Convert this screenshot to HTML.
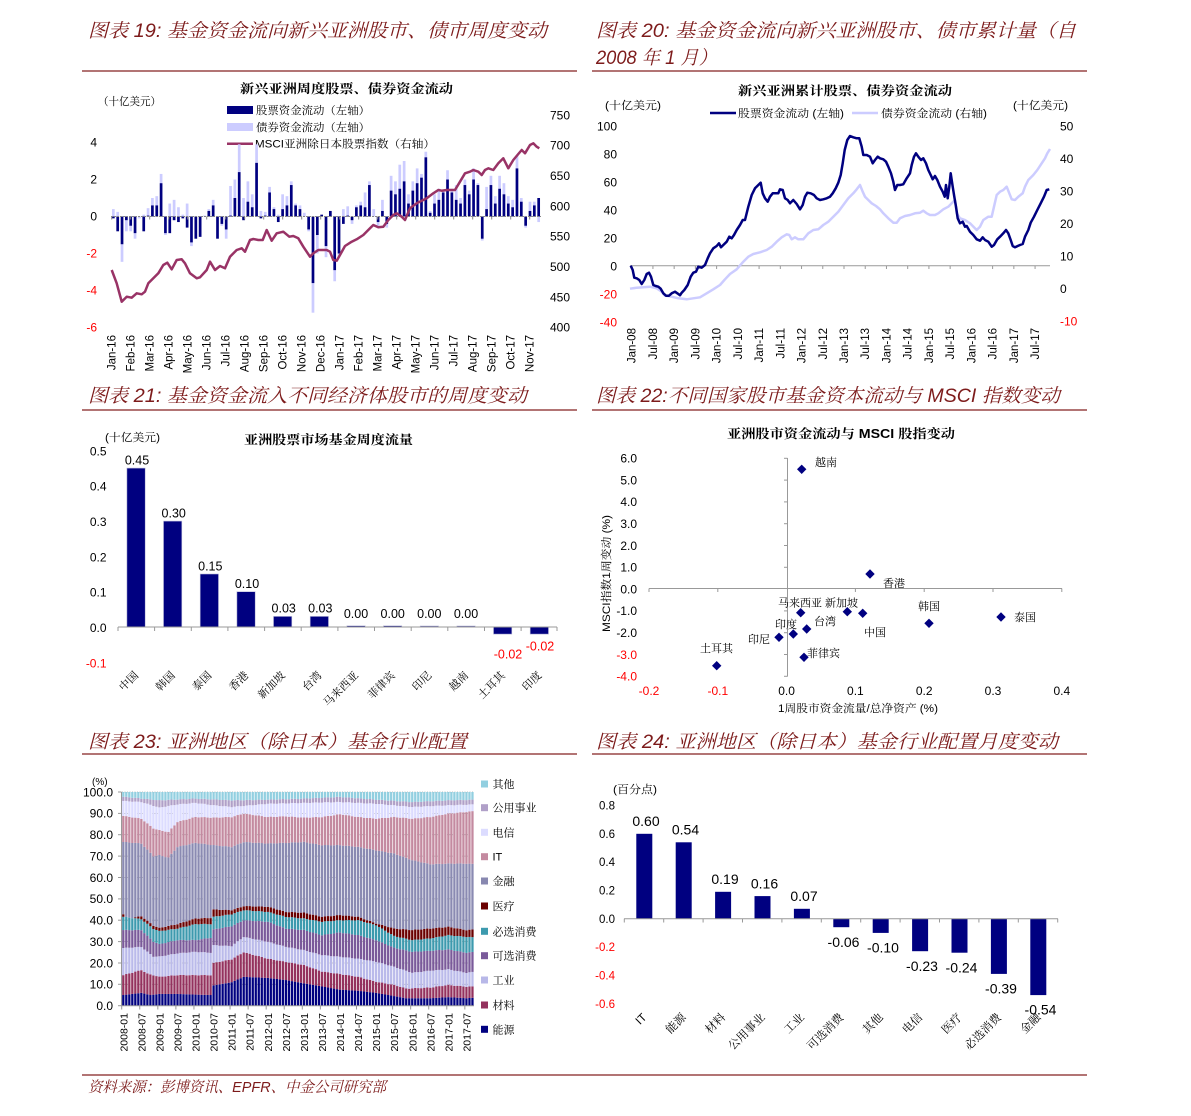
<!DOCTYPE html>
<html><head><meta charset="utf-8">
<style>
html,body{margin:0;padding:0;background:#fff;}
svg{display:block;}
.t{font-family:"Liberation Sans","Noto Serif CJK SC",serif;font-style:italic;fill:#7d1b1b;font-size:19px;}
.n{font-family:"Liberation Sans",sans-serif;font-size:12px;fill:#000;}
.s{font-family:"Liberation Sans",sans-serif;font-size:11.5px;fill:#000;}
.r{fill:#ff0000;}
.c{font-family:"Liberation Sans","Noto Serif CJK SC",serif;font-size:11px;fill:#000;}
.h{font-family:"Liberation Sans","Noto Serif CJK SC",serif;font-size:12.5px;font-weight:bold;fill:#000;}
</style></head><body>
<svg id="s" width="1191" height="1116" viewBox="0 0 1191 1116" xmlns="http://www.w3.org/2000/svg">
<rect width="1191" height="1116" fill="#fff"/>
<!-- Titles -->
<text class="t" x="88" y="37" textLength="459" lengthAdjust="spacingAndGlyphs">图表 19: 基金资金流向新兴亚洲股市、债市周度变动</text>
<text class="t" x="596" y="37" textLength="480" lengthAdjust="spacingAndGlyphs">图表 20: 基金资金流向新兴亚洲股市、债市累计量（自</text>
<text class="t" x="596" y="64" textLength="121" lengthAdjust="spacingAndGlyphs">2008 年 1 月）</text>
<line x1="82" y1="71" x2="577" y2="71" stroke="#b27474" stroke-width="2"/>
<line x1="592" y1="71" x2="1087" y2="71" stroke="#b27474" stroke-width="2"/>
<text class="t" x="88" y="402" textLength="439" lengthAdjust="spacingAndGlyphs">图表 21: 基金资金流入不同经济体股市的周度变动</text>
<text class="t" x="596" y="402" textLength="464" lengthAdjust="spacingAndGlyphs">图表 22:不同国家股市基金资本流动与 MSCI 指数变动</text>
<line x1="82" y1="410" x2="577" y2="410" stroke="#b27474" stroke-width="2"/>
<line x1="592" y1="410" x2="1087" y2="410" stroke="#b27474" stroke-width="2"/>
<text class="t" x="88" y="748" textLength="379" lengthAdjust="spacingAndGlyphs">图表 23: 亚洲地区（除日本）基金行业配置</text>
<text class="t" x="596" y="748" textLength="462" lengthAdjust="spacingAndGlyphs">图表 24: 亚洲地区（除日本）基金行业配置月度变动</text>
<line x1="82" y1="754" x2="577" y2="754" stroke="#b27474" stroke-width="2"/>
<line x1="592" y1="754" x2="1087" y2="754" stroke="#b27474" stroke-width="2"/>
<line x1="82" y1="1075" x2="1087" y2="1075" stroke="#b27474" stroke-width="2"/>
<text class="t" x="88" y="1092" style="font-size:15px" textLength="298" lengthAdjust="spacingAndGlyphs">资料来源：彭博资讯、EPFR、中金公司研究部</text>

<!-- ============ Chart 19 ============ -->
<text class="h" x="240" y="93" textLength="213" lengthAdjust="spacingAndGlyphs">新兴亚洲周度股票、债券资金流动</text>
<text class="c" x="98" y="105" textLength="63" lengthAdjust="spacingAndGlyphs">（十亿美元）</text>
<rect x="227" y="106" width="26" height="8" fill="#000080"/>
<rect x="227" y="123" width="26" height="8" fill="#ccccff"/>
<line x1="227" y1="143.7" x2="253" y2="143.7" stroke="#993366" stroke-width="2.5"/>
<text class="c" x="256" y="114" textLength="114" lengthAdjust="spacingAndGlyphs">股票资金流动（左轴）</text>
<text class="c" x="256" y="131" textLength="114" lengthAdjust="spacingAndGlyphs">债券资金流动（左轴）</text>
<text class="c" x="255" y="147.5" textLength="180" lengthAdjust="spacingAndGlyphs">MSCI亚洲除日本股票指数（右轴）</text>
<g class="n" text-anchor="end">
<text x="97" y="146.3">4</text><text x="97" y="183.3">2</text><text x="97" y="220.3">0</text>
<text x="97" y="257.3" class="n r">-2</text><text x="97" y="294.3" class="n r">-4</text><text x="97" y="331.3" class="n r">-6</text>
</g>
<g class="n">
<text x="550" y="119.3">750</text><text x="550" y="149.6">700</text><text x="550" y="180">650</text><text x="550" y="210.3">600</text>
<text x="550" y="240.6">550</text><text x="550" y="271">500</text><text x="550" y="301.3">450</text><text x="550" y="331.6">400</text>
</g>
<g id="b19"></g>
<line x1="111" y1="216.5" x2="541" y2="216.5" stroke="#888" stroke-width="1" stroke-dasharray="2,1"/>
<g id="t19"></g>
<polyline id="m19" fill="none" stroke="#993366" stroke-width="2.5" stroke-linejoin="round" points=""/>
<g class="s" text-anchor="end">
<text transform="rotate(-90 115.7 335)" x="115.7" y="335">Jan-16</text>
<text transform="rotate(-90 134.7 335)" x="134.7" y="335">Feb-16</text>
<text transform="rotate(-90 153.7 335)" x="153.7" y="335">Mar-16</text>
<text transform="rotate(-90 172.7 335)" x="172.7" y="335">Apr-16</text>
<text transform="rotate(-90 191.7 335)" x="191.7" y="335">May-16</text>
<text transform="rotate(-90 210.7 335)" x="210.7" y="335">Jun-16</text>
<text transform="rotate(-90 229.7 335)" x="229.7" y="335">Jul-16</text>
<text transform="rotate(-90 248.7 335)" x="248.7" y="335">Aug-16</text>
<text transform="rotate(-90 267.7 335)" x="267.7" y="335">Sep-16</text>
<text transform="rotate(-90 286.7 335)" x="286.7" y="335">Oct-16</text>
<text transform="rotate(-90 305.7 335)" x="305.7" y="335">Nov-16</text>
<text transform="rotate(-90 324.7 335)" x="324.7" y="335">Dec-16</text>
<text transform="rotate(-90 343.7 335)" x="343.7" y="335">Jan-17</text>
<text transform="rotate(-90 362.7 335)" x="362.7" y="335">Feb-17</text>
<text transform="rotate(-90 381.7 335)" x="381.7" y="335">Mar-17</text>
<text transform="rotate(-90 400.7 335)" x="400.7" y="335">Apr-17</text>
<text transform="rotate(-90 419.7 335)" x="419.7" y="335">May-17</text>
<text transform="rotate(-90 438.7 335)" x="438.7" y="335">Jun-17</text>
<text transform="rotate(-90 457.7 335)" x="457.7" y="335">Jul-17</text>
<text transform="rotate(-90 476.7 335)" x="476.7" y="335">Aug-17</text>
<text transform="rotate(-90 495.7 335)" x="495.7" y="335">Sep-17</text>
<text transform="rotate(-90 514.7 335)" x="514.7" y="335">Oct-17</text>
<text transform="rotate(-90 533.7 335)" x="533.7" y="335">Nov-17</text>
</g>

<!-- ============ Chart 20 ============ -->
<text class="h" x="738" y="95" textLength="214" lengthAdjust="spacingAndGlyphs">新兴亚洲累计股票、债券资金流动</text>
<text class="c" x="605" y="109" textLength="56" lengthAdjust="spacingAndGlyphs">(十亿美元)</text>
<text class="c" x="1013" y="109" textLength="55" lengthAdjust="spacingAndGlyphs">(十亿美元)</text>
<line x1="710" y1="113" x2="736" y2="113" stroke="#000080" stroke-width="2.5"/>
<text class="c" x="738" y="117" textLength="106" lengthAdjust="spacingAndGlyphs">股票资金流动 (左轴)</text>
<line x1="852" y1="113" x2="878" y2="113" stroke="#ccccff" stroke-width="2.5"/>
<text class="c" x="881" y="117" textLength="106" lengthAdjust="spacingAndGlyphs">债券资金流动 (右轴)</text>
<g class="n" text-anchor="end">
<text x="617" y="130.5">100</text><text x="617" y="158.5">80</text><text x="617" y="186.5">60</text><text x="617" y="214.5">40</text>
<text x="617" y="242.5">20</text><text x="617" y="270.3">0</text><text x="617" y="298.3" class="n r">-20</text><text x="617" y="326.3" class="n r">-40</text>
</g>
<g class="n">
<text x="1060" y="130.5">50</text><text x="1060" y="163">40</text><text x="1060" y="195.5">30</text><text x="1060" y="228">20</text>
<text x="1060" y="260.5">10</text><text x="1060" y="293">0</text><text x="1060" y="325.5" class="n r">-10</text>
</g>
<line x1="630" y1="265.8" x2="1050" y2="265.8" stroke="#999" stroke-width="1"/>
<g id="t20"></g>
<polyline id="l20b" fill="none" stroke="#ccccff" stroke-width="2.5" stroke-linejoin="round" points=""/>
<polyline id="l20e" fill="none" stroke="#000080" stroke-width="2.5" stroke-linejoin="round" points=""/>
<g class="s" text-anchor="end">
<text transform="rotate(-90 635.7 328)" x="635.7" y="328">Jan-08</text>
<text transform="rotate(-90 656.9 328)" x="656.9" y="328">Jul-08</text>
<text transform="rotate(-90 678.2 328)" x="678.2" y="328">Jan-09</text>
<text transform="rotate(-90 699.4 328)" x="699.4" y="328">Jul-09</text>
<text transform="rotate(-90 720.6 328)" x="720.6" y="328">Jan-10</text>
<text transform="rotate(-90 741.9 328)" x="741.9" y="328">Jul-10</text>
<text transform="rotate(-90 763.1 328)" x="763.1" y="328">Jan-11</text>
<text transform="rotate(-90 784.3 328)" x="784.3" y="328">Jul-11</text>
<text transform="rotate(-90 805.5 328)" x="805.5" y="328">Jan-12</text>
<text transform="rotate(-90 826.8 328)" x="826.8" y="328">Jul-12</text>
<text transform="rotate(-90 848 328)" x="848" y="328">Jan-13</text>
<text transform="rotate(-90 869.2 328)" x="869.2" y="328">Jul-13</text>
<text transform="rotate(-90 890.5 328)" x="890.5" y="328">Jan-14</text>
<text transform="rotate(-90 911.7 328)" x="911.7" y="328">Jul-14</text>
<text transform="rotate(-90 932.9 328)" x="932.9" y="328">Jan-15</text>
<text transform="rotate(-90 954.2 328)" x="954.2" y="328">Jul-15</text>
<text transform="rotate(-90 975.4 328)" x="975.4" y="328">Jan-16</text>
<text transform="rotate(-90 996.6 328)" x="996.6" y="328">Jul-16</text>
<text transform="rotate(-90 1017.9 328)" x="1017.9" y="328">Jan-17</text>
<text transform="rotate(-90 1039.1 328)" x="1039.1" y="328">Jul-17</text>
</g>

<!-- ============ Chart 21 ============ -->
<text class="c" x="105" y="441" textLength="55" lengthAdjust="spacingAndGlyphs">(十亿美元)</text>
<text class="h" x="244" y="444" textLength="169" lengthAdjust="spacingAndGlyphs">亚洲股票市场基金周度流量</text>
<g class="n" text-anchor="end">
<text x="106.5" y="455.3">0.5</text><text x="106.5" y="490.6">0.4</text><text x="106.5" y="526">0.3</text>
<text x="106.5" y="561.3">0.2</text><text x="106.5" y="596.6">0.1</text><text x="106.5" y="632">0.0</text>
<text x="106.5" y="667.3" class="n r">-0.1</text>
</g>
<g fill="#000080" stroke="#b8b8d8" stroke-width="0.6">
<rect x="126.9" y="468.1" width="18.3" height="158.9"/>
<rect x="163.5" y="521.1" width="18.3" height="105.9"/>
<rect x="200.2" y="574" width="18.3" height="53"/>
<rect x="236.9" y="591.7" width="18.3" height="35.3"/>
<rect x="273.5" y="616.4" width="18.3" height="10.6"/>
<rect x="310.2" y="616.4" width="18.3" height="10.6"/>
<rect x="346.9" y="625.8" width="18.3" height="1.2"/>
<rect x="383.5" y="625.8" width="18.3" height="1.2"/>
<rect x="420.2" y="626" width="18.3" height="1"/>
<rect x="456.9" y="626" width="18.3" height="1"/>
<rect x="493.5" y="627" width="18.3" height="7.1"/>
<rect x="530.2" y="627" width="18.3" height="7.1"/>
</g>
<line x1="118" y1="627" x2="557" y2="627" stroke="#999" stroke-width="1"/>
<g stroke="#999" stroke-width="1">
<line x1="118" y1="627" x2="118" y2="631"/><line x1="154.6" y1="627" x2="154.6" y2="631"/><line x1="191.3" y1="627" x2="191.3" y2="631"/>
<line x1="227.9" y1="627" x2="227.9" y2="631"/><line x1="264.6" y1="627" x2="264.6" y2="631"/><line x1="301.2" y1="627" x2="301.2" y2="631"/>
<line x1="337.9" y1="627" x2="337.9" y2="631"/><line x1="374.5" y1="627" x2="374.5" y2="631"/><line x1="411.2" y1="627" x2="411.2" y2="631"/>
<line x1="447.8" y1="627" x2="447.8" y2="631"/><line x1="484.5" y1="627" x2="484.5" y2="631"/><line x1="521.1" y1="627" x2="521.1" y2="631"/>
<line x1="557" y1="627" x2="557" y2="631"/>
</g>
<g class="n" text-anchor="middle" style="font-size:12.5px">
<text x="137" y="464.5">0.45</text><text x="173.7" y="517.5">0.30</text><text x="210.3" y="570.5">0.15</text><text x="247" y="588">0.10</text>
<text x="283.7" y="612.5">0.03</text><text x="320.3" y="612.5">0.03</text><text x="356" y="618">0.00</text><text x="392.7" y="618">0.00</text>
<text x="429.3" y="618">0.00</text><text x="466" y="618">0.00</text>
<text x="508" y="658.5" class="n r" style="font-size:12.5px">-0.02</text><text x="540" y="650.5" class="n r" style="font-size:12.5px">-0.02</text>
</g>
<g class="c" text-anchor="end">
<text transform="rotate(-45 139 676)" x="139" y="676">中国</text>
<text transform="rotate(-45 175.7 676)" x="175.7" y="676">韩国</text>
<text transform="rotate(-45 212.3 676)" x="212.3" y="676">泰国</text>
<text transform="rotate(-45 249 676)" x="249" y="676">香港</text>
<text transform="rotate(-45 285.7 676)" x="285.7" y="676">新加坡</text>
<text transform="rotate(-45 322.3 676)" x="322.3" y="676">台湾</text>
<text transform="rotate(-45 359 676)" x="359" y="676">马来西亚</text>
<text transform="rotate(-45 395.7 676)" x="395.7" y="676">菲律宾</text>
<text transform="rotate(-45 432.3 676)" x="432.3" y="676">印尼</text>
<text transform="rotate(-45 469 676)" x="469" y="676">越南</text>
<text transform="rotate(-45 505.7 676)" x="505.7" y="676">土耳其</text>
<text transform="rotate(-45 542.3 676)" x="542.3" y="676">印度</text>
</g>

<!-- ============ Chart 22 ============ -->
<text class="h" x="727" y="438" textLength="228" lengthAdjust="spacingAndGlyphs">亚洲股市资金流动与 MSCI 股指变动</text>
<g class="n" text-anchor="end">
<text x="637" y="462.6">6.0</text><text x="637" y="484.4">5.0</text><text x="637" y="506.2">4.0</text><text x="637" y="528">3.0</text>
<text x="637" y="549.8">2.0</text><text x="637" y="571.6">1.0</text><text x="637" y="593.4">0.0</text><text x="637" y="615.2">-1.0</text>
<text x="637" y="637">-2.0</text><text x="637" y="658.8" class="n r">-3.0</text><text x="637" y="680.6" class="n r">-4.0</text>
</g>
<g class="n" text-anchor="middle">
<text x="649" y="695" class="n r">-0.2</text><text x="717.8" y="695" class="n r">-0.1</text><text x="786.6" y="695">0.0</text>
<text x="855.4" y="695">0.1</text><text x="924.2" y="695">0.2</text><text x="993" y="695">0.3</text><text x="1061.8" y="695">0.4</text>
</g>
<g stroke="#999" stroke-width="1">
<line x1="649" y1="588.5" x2="1062" y2="588.5"/>
<line x1="787.5" y1="458" x2="787.5" y2="676.5"/>
<line x1="649" y1="588.5" x2="649" y2="592"/><line x1="717.8" y1="588.5" x2="717.8" y2="592"/><line x1="855.4" y1="588.5" x2="855.4" y2="592"/>
<line x1="924.2" y1="588.5" x2="924.2" y2="592"/><line x1="993" y1="588.5" x2="993" y2="592"/><line x1="1061.8" y1="588.5" x2="1061.8" y2="592"/>
<line x1="784" y1="458.3" x2="787.5" y2="458.3"/><line x1="784" y1="480.1" x2="787.5" y2="480.1"/><line x1="784" y1="501.9" x2="787.5" y2="501.9"/>
<line x1="784" y1="523.7" x2="787.5" y2="523.7"/><line x1="784" y1="545.5" x2="787.5" y2="545.5"/><line x1="784" y1="567.3" x2="787.5" y2="567.3"/>
<line x1="784" y1="610.9" x2="787.5" y2="610.9"/><line x1="784" y1="632.7" x2="787.5" y2="632.7"/><line x1="784" y1="654.5" x2="787.5" y2="654.5"/>
<line x1="784" y1="676.3" x2="787.5" y2="676.3"/>
</g>
<g fill="#000080">
<path d="M801.7 464.6L806.4 469.3L801.7 474L797 469.3Z"/>
<path d="M870 569.3L874.7 574L870 578.7L865.3 574Z"/>
<path d="M800.7 608L805.4 612.7L800.7 617.4L796 612.7Z"/>
<path d="M847.3 607L852 611.7L847.3 616.4L842.6 611.7Z"/>
<path d="M862.7 608.6L867.4 613.3L862.7 618L858 613.3Z"/>
<path d="M929 618.6L933.7 623.3L929 628L924.3 623.3Z"/>
<path d="M1001 612.3L1005.7 617L1001 621.7L996.3 617Z"/>
<path d="M806.7 624.3L811.4 629L806.7 633.7L802 629Z"/>
<path d="M793.3 629.3L798 634L793.3 638.7L788.6 634Z"/>
<path d="M779 632.6L783.7 637.3L779 642L774.3 637.3Z"/>
<path d="M804 652.6L808.7 657.3L804 662L799.3 657.3Z"/>
<path d="M716.7 661L721.4 665.7L716.7 670.4L712 665.7Z"/>
</g>
<g class="c">
<text x="815" y="466">越南</text>
<text x="883" y="587">香港</text>
<text x="778" y="606.5">马来西亚 新加坡</text>
<text x="918" y="610">韩国</text>
<text x="1014" y="621">泰国</text>
<text x="814" y="625">台湾</text>
<text x="864" y="636">中国</text>
<text x="775" y="628">印度</text>
<text x="748" y="643">印尼</text>
<text x="700" y="652">土耳其</text>
<text x="807" y="657">菲律宾</text>
</g>
<text class="c" transform="rotate(-90 610 632)" x="610" y="632" textLength="117" lengthAdjust="spacingAndGlyphs">MSCI指数1周变动 (%)</text>
<text class="c" x="778" y="712" textLength="160" lengthAdjust="spacingAndGlyphs">1周股市资金流量/总净资产 (%)</text>

<!-- ============ Chart 23 ============ -->
<text class="c" x="92" y="785" style="font-size:10px">(%)</text>
<g class="n" text-anchor="end">
<text x="113" y="796.3">100.0</text><text x="113" y="817.7">90.0</text><text x="113" y="839">80.0</text><text x="113" y="860.4">70.0</text>
<text x="113" y="881.8">60.0</text><text x="113" y="903.2">50.0</text><text x="113" y="924.5">40.0</text><text x="113" y="945.9">30.0</text>
<text x="113" y="967.3">20.0</text><text x="113" y="988.6">10.0</text><text x="113" y="1010">0.0</text>
</g>
<g stroke="#aaa" stroke-width="0.8" stroke-dasharray="1,1.5">
<line x1="122" y1="813.4" x2="474" y2="813.4"/><line x1="122" y1="834.7" x2="474" y2="834.7"/><line x1="122" y1="856.1" x2="474" y2="856.1"/>
<line x1="122" y1="877.5" x2="474" y2="877.5"/><line x1="122" y1="898.9" x2="474" y2="898.9"/><line x1="122" y1="920.2" x2="474" y2="920.2"/>
<line x1="122" y1="941.6" x2="474" y2="941.6"/><line x1="122" y1="963" x2="474" y2="963"/><line x1="122" y1="984.3" x2="474" y2="984.3"/>
<line x1="122" y1="792" x2="474" y2="792"/>
</g>
<g id="b23"></g>
<g stroke="#999" stroke-width="1">
<line x1="121.5" y1="792" x2="121.5" y2="1006"/>
<line x1="121.5" y1="1005.7" x2="474" y2="1005.7"/>
<line x1="118" y1="792" x2="121.5" y2="792"/><line x1="118" y1="813.4" x2="121.5" y2="813.4"/><line x1="118" y1="834.7" x2="121.5" y2="834.7"/>
<line x1="118" y1="856.1" x2="121.5" y2="856.1"/><line x1="118" y1="877.5" x2="121.5" y2="877.5"/><line x1="118" y1="898.9" x2="121.5" y2="898.9"/>
<line x1="118" y1="920.2" x2="121.5" y2="920.2"/><line x1="118" y1="941.6" x2="121.5" y2="941.6"/><line x1="118" y1="963" x2="121.5" y2="963"/>
<line x1="118" y1="984.3" x2="121.5" y2="984.3"/><line x1="118" y1="1005.7" x2="121.5" y2="1005.7"/>
</g>
<g id="t23"></g>
<g class="s" text-anchor="end" style="font-size:10.5px">
<text transform="rotate(-90 127.3 1013)" x="127.3" y="1013">2008-01</text>
<text transform="rotate(-90 145.4 1013)" x="145.4" y="1013">2008-07</text>
<text transform="rotate(-90 163.4 1013)" x="163.4" y="1013">2009-01</text>
<text transform="rotate(-90 181.5 1013)" x="181.5" y="1013">2009-07</text>
<text transform="rotate(-90 199.6 1013)" x="199.6" y="1013">2010-01</text>
<text transform="rotate(-90 217.6 1013)" x="217.6" y="1013">2010-07</text>
<text transform="rotate(-90 235.7 1013)" x="235.7" y="1013">2011-01</text>
<text transform="rotate(-90 253.7 1013)" x="253.7" y="1013">2011-07</text>
<text transform="rotate(-90 271.8 1013)" x="271.8" y="1013">2012-01</text>
<text transform="rotate(-90 289.9 1013)" x="289.9" y="1013">2012-07</text>
<text transform="rotate(-90 307.9 1013)" x="307.9" y="1013">2013-01</text>
<text transform="rotate(-90 326 1013)" x="326" y="1013">2013-07</text>
<text transform="rotate(-90 344 1013)" x="344" y="1013">2014-01</text>
<text transform="rotate(-90 362.1 1013)" x="362.1" y="1013">2014-07</text>
<text transform="rotate(-90 380.1 1013)" x="380.1" y="1013">2015-01</text>
<text transform="rotate(-90 398.2 1013)" x="398.2" y="1013">2015-07</text>
<text transform="rotate(-90 416.3 1013)" x="416.3" y="1013">2016-01</text>
<text transform="rotate(-90 434.3 1013)" x="434.3" y="1013">2016-07</text>
<text transform="rotate(-90 452.4 1013)" x="452.4" y="1013">2017-01</text>
<text transform="rotate(-90 470.4 1013)" x="470.4" y="1013">2017-07</text>
</g>
<g>
<rect x="481" y="780.5" width="7" height="7" fill="#92cfe0"/>
<rect x="481" y="804.2" width="7" height="7" fill="#b0a0c8"/>
<rect x="481" y="828.8" width="7" height="7" fill="#dcdcff"/>
<rect x="481" y="853.2" width="7" height="7" fill="#c48aa0"/>
<rect x="481" y="877.5" width="7" height="7" fill="#8888b0"/>
<rect x="481" y="902.5" width="7" height="7" fill="#6b0000"/>
<rect x="481" y="927.8" width="7" height="7" fill="#3d9aae"/>
<rect x="481" y="952.2" width="7" height="7" fill="#7a5a9a"/>
<rect x="481" y="976.5" width="7" height="7" fill="#b8b8e8"/>
<rect x="481" y="1001.5" width="7" height="7" fill="#94325e"/>
<rect x="481" y="1025.8" width="7" height="7" fill="#000080"/>
</g>
<g class="c">
<text x="492.5" y="788">其他</text>
<text x="492.5" y="811.7">公用事业</text>
<text x="492.5" y="836.3">电信</text>
<text x="492.5" y="860.7">IT</text>
<text x="492.5" y="885">金融</text>
<text x="492.5" y="910">医疗</text>
<text x="492.5" y="935.3">必选消费</text>
<text x="492.5" y="959.7">可选消费</text>
<text x="492.5" y="984">工业</text>
<text x="492.5" y="1009">材料</text>
<text x="492.5" y="1033.3">能源</text>
</g>

<!-- ============ Chart 24 ============ -->
<text class="c" x="613" y="793" textLength="44" lengthAdjust="spacingAndGlyphs">(百分点)</text>
<g class="n" text-anchor="end" style="font-size:11.5px">
<text x="615" y="809.5">0.8</text><text x="615" y="837.9">0.6</text><text x="615" y="866.2">0.4</text><text x="615" y="894.5">0.2</text>
<text x="615" y="922.9">0.0</text><text x="615" y="951.2" class="n r" style="font-size:11.5px">-0.2</text><text x="615" y="979.5" class="n r" style="font-size:11.5px">-0.4</text><text x="615" y="1007.9" class="n r" style="font-size:11.5px">-0.6</text>
</g>
<g fill="#000080">
<rect x="636.3" y="833.8" width="16" height="84.9"/>
<rect x="675.7" y="842.3" width="16" height="76.4"/>
<rect x="715.1" y="891.8" width="16" height="26.9"/>
<rect x="754.5" y="896.1" width="16" height="22.6"/>
<rect x="793.9" y="908.8" width="16" height="9.9"/>
<rect x="833.3" y="918.7" width="16" height="8.5"/>
<rect x="872.7" y="918.7" width="16" height="14.2"/>
<rect x="912.1" y="918.7" width="16" height="32.5"/>
<rect x="951.5" y="918.7" width="16" height="34"/>
<rect x="990.9" y="918.7" width="16" height="55.2"/>
<rect x="1030.3" y="918.7" width="16" height="76.4"/>
</g>
<line x1="624" y1="918.7" x2="1058" y2="918.7" stroke="#999" stroke-width="1"/>
<g stroke="#999" stroke-width="1">
<line x1="624.3" y1="918.7" x2="624.3" y2="922.5"/><line x1="663.7" y1="918.7" x2="663.7" y2="922.5"/><line x1="703.1" y1="918.7" x2="703.1" y2="922.5"/>
<line x1="742.5" y1="918.7" x2="742.5" y2="922.5"/><line x1="781.9" y1="918.7" x2="781.9" y2="922.5"/><line x1="821.3" y1="918.7" x2="821.3" y2="922.5"/>
<line x1="860.7" y1="918.7" x2="860.7" y2="922.5"/><line x1="900.1" y1="918.7" x2="900.1" y2="922.5"/><line x1="939.5" y1="918.7" x2="939.5" y2="922.5"/>
<line x1="978.9" y1="918.7" x2="978.9" y2="922.5"/><line x1="1018.3" y1="918.7" x2="1018.3" y2="922.5"/><line x1="1057.7" y1="918.7" x2="1057.7" y2="922.5"/>
</g>
<g class="n" text-anchor="middle" style="font-size:14px">
<text x="646" y="826">0.60</text><text x="685.5" y="834.5">0.54</text><text x="725" y="884">0.19</text><text x="764.5" y="888.5">0.16</text>
<text x="804" y="901">0.07</text><text x="843.5" y="947">-0.06</text><text x="883" y="952.5">-0.10</text><text x="922" y="971">-0.23</text>
<text x="961.5" y="972.5">-0.24</text><text x="1001" y="993.5">-0.39</text><text x="1040.5" y="1014.5">-0.54</text>
</g>
<g class="c" text-anchor="end" style="font-size:11.5px">
<text transform="rotate(-45 647.3 1018)" x="647.3" y="1018">IT</text>
<text transform="rotate(-45 686.7 1018)" x="686.7" y="1018">能源</text>
<text transform="rotate(-45 726.1 1018)" x="726.1" y="1018">材料</text>
<text transform="rotate(-45 765.5 1018)" x="765.5" y="1018">公用事业</text>
<text transform="rotate(-45 804.9 1018)" x="804.9" y="1018">工业</text>
<text transform="rotate(-45 844.3 1018)" x="844.3" y="1018">可选消费</text>
<text transform="rotate(-45 883.7 1018)" x="883.7" y="1018">其他</text>
<text transform="rotate(-45 923.1 1018)" x="923.1" y="1018">电信</text>
<text transform="rotate(-45 962.5 1018)" x="962.5" y="1018">医疗</text>
<text transform="rotate(-45 1001.9 1018)" x="1001.9" y="1018">必选消费</text>
<text transform="rotate(-45 1041.3 1018)" x="1041.3" y="1018">金融</text>
</g>
</svg>
<script>
(function(){
var NS='http://www.w3.org/2000/svg';
function mk(tag,a,p){var e=document.createElementNS(NS,tag);for(var k in a)e.setAttribute(k,a[k]);p.appendChild(e);return e;}
function pts(arr,ox,oy){return arr.map(function(p){return (ox+p[0]/3).toFixed(1)+','+(oy+p[1]/3).toFixed(1);}).join(' ');}

/* ---- Chart 19 bars ---- */
var d19=[[-0.1,0.4],[-0.8,0.25],[-1.5,-0.95],[-0.2,-0.6],[-0.5,-0.3],[-0.9,-0.3],[0,-0.1],[-0.8,0.1],[0.05,0.4],[0.6,0.4],[0.6,0.5],[1.8,0.5],[-0.9,-0.1],[-0.9,0.7],[-0.2,0.9],[-0.3,0.5],[-0.1,0.1],[-0.6,0.7],[-1.4,-0.2],[-1.2,0],[-1.1,0],[0,0.05],[0.3,0.1],[0.6,0.3],[-1.2,0],[-0.4,-0.1],[-0.7,-0.5],[0.05,1.6],[1.0,1.0],[2.4,1.5],[-0.2,1.0],[0.8,1.1],[0.5,0.7],[2.9,1.0],[-0.1,0.3],[0.05,0.2],[1.3,0.3],[0.4,0.1],[-0.3,0.1],[0.4,0.8],[0.6,0.5],[1.7,0.2],[0.6,0.1],[0.4,0.2],[0,0.2],[-0.7,-0.1],[-3.6,-1.6],[-1.0,-1.0],[0.1,0],[-1.6,-0.6],[0.3,0],[-2.9,-0.6],[-2.0,-0.2],[-0.4,0.4],[0.05,0.5],[-0.2,-0.2],[0.5,0.1],[0.6,0.2],[0.5,0.8],[1.7,0.2],[0,0.4],[-0.3,-0.2],[0.3,0.6],[-0.4,-0.2],[1.4,0.8],[1.2,0.7],[1.5,1.3],[1.9,1.1],[0.7,0.5],[1.4,0.5],[1.8,0.8],[2.1,0.2],[3.2,0.3],[0.2,0.1],[0.7,0.5],[0.9,0.6],[1.3,0.1],[2.0,0.5],[1.3,0.2],[0.9,0.8],[0.7,0.3],[1.7,0.3],[1.2,0.2],[2.0,0.6],[1.7,0.1],[-1.2,-0.1],[0.4,1.2],[1.7,0.5],[0.7,0.4],[1.5,0.7],[1.2,0.6],[0.7,0.4],[0.5,0.4],[2.6,0.7],[0.8,0.2],[-0.5,-0.1],[0.3,0.5],[0.6,0.2],[1.0,-0.3]];
var g19=document.getElementById('b19'), z=216.5, u=18.5;
d19.forEach(function(d,i){
  var x=113.3+4.34*i-1.3, e=d[0], b=d[1], b0, b1;
  if(e*b>0){b0=e;b1=e+b;}else{b0=0;b1=b;}
  if(b!==0) mk('rect',{x:x.toFixed(2),y:(z-Math.max(b0,b1)*u).toFixed(2),width:2.7,height:(Math.abs(b1-b0)*u).toFixed(2),fill:'#ccccff'},g19);
  if(e!==0) mk('rect',{x:x.toFixed(2),y:(z-Math.max(0,e)*u).toFixed(2),width:2.7,height:(Math.abs(e)*u).toFixed(2),fill:'#000080'},g19);
});
var t19=document.getElementById('t19');
for(var i=0;i<23;i++){var tx=111.7+19.0*i;mk('line',{x1:tx,y1:216.5,x2:tx,y2:219.5,stroke:'#888','stroke-width':1},t19);}
var m19=[[95,810],[110,850],[125,905],[140,890],[155,893],[170,880],[185,883],[195,875],[205,850],[220,835],[235,820],[250,795],[262,788],[275,808],[290,780],[305,778],[315,790],[330,820],[350,835],[360,832],[380,810],[390,785],[405,810],[420,798],[435,805],[450,770],[470,750],[485,745],[495,755],[510,720],[520,717],[535,720],[548,720],[560,690],[575,722],[590,700],[610,695],[628,710],[640,708],[655,715],[670,740],[690,770],[700,760],[715,750],[740,750],[750,755],[760,780],[770,782],[780,765],[795,738],[815,725],[830,718],[850,705],[870,685],[880,675],[895,682],[910,680],[925,660],[940,645],[950,640],[965,650],[975,660],[990,625],[1010,610],[1030,600],[1040,595],[1060,580],[1075,570],[1085,572],[1100,570],[1125,570],[1140,545],[1155,520],[1170,515],[1180,510],[1195,515],[1205,525],[1215,510],[1225,505],[1240,510],[1255,490],[1270,475],[1285,505],[1300,480],[1315,462],[1325,450],[1335,460],[1350,435],[1360,430],[1370,440],[1378,445]];
document.getElementById('m19').setAttribute('points',pts(m19,80,0));

/* ---- Chart 20 ---- */
var t20=document.getElementById('t20');
for(var i=0;i<20;i++){var tx=631.7+21.23*i;mk('line',{x1:tx,y1:265.8,x2:tx,y2:269,stroke:'#999','stroke-width':1},t20);}
var e20=[[122,797],[128,810],[133,833],[140,835],[148,840],[155,852],[163,840],[170,822],[177,818],[183,830],[190,855],[197,858],[205,860],[212,866],[220,880],[228,887],[237,887],[245,880],[255,875],[262,880],[270,886],[275,878],[283,870],[293,855],[302,830],[310,818],[318,815],[325,800],[335,803],[345,795],[353,775],[360,760],[370,745],[380,738],[387,730],[393,742],[400,735],[410,725],[418,710],[425,715],[432,705],[440,690],[450,675],[458,660],[465,660],[475,620],[485,585],[495,565],[505,555],[512,548],[518,580],[525,595],[533,605],[540,590],[548,580],[557,580],[565,580],[570,568],[578,570],[585,595],[593,600],[600,610],[610,600],[620,612],[630,628],[638,615],[645,590],[652,578],[662,580],[672,585],[680,595],[690,600],[700,598],[710,595],[720,590],[728,580],[737,565],[745,548],[752,525],[758,490],[764,450],[772,420],[780,408],[790,412],[800,415],[808,415],[815,440],[820,465],[830,465],[840,470],[848,490],[855,480],[863,470],[870,475],[880,478],[888,485],[895,500],[903,520],[910,545],[915,570],[922,555],[930,555],[940,553],[950,535],[960,520],[965,495],[972,470],[978,460],[985,470],[993,480],[1000,475],[1008,490],[1015,510],[1022,525],[1028,538],[1035,528],[1042,540],[1050,560],[1058,575],[1064,590],[1068,555],[1073,595],[1078,560],[1082,520],[1088,560],[1093,590],[1098,620],[1103,655],[1110,670],[1118,665],[1125,680],[1130,678],[1140,695],[1150,705],[1160,718],[1170,722],[1178,712],[1185,720],[1195,725],[1205,740],[1212,735],[1222,718],[1230,710],[1240,700],[1248,690],[1255,700],[1262,720],[1268,738],[1275,742],[1283,738],[1290,735],[1298,732],[1305,710],[1315,690],[1322,668],[1332,650],[1342,630],[1352,610],[1362,590],[1370,570],[1378,568]];
var b20=[[120,866],[140,863],[160,862],[180,860],[200,865],[215,875],[225,887],[245,890],[265,895],[290,898],[310,895],[330,892],[350,880],[370,868],[390,855],[405,838],[420,822],[440,808],[460,785],[475,770],[490,762],[510,757],[530,750],[545,740],[560,725],[575,712],[590,703],[598,705],[605,718],[615,712],[625,718],[640,718],[655,700],[670,690],[685,688],[700,675],[715,665],[730,650],[745,635],[760,615],[775,595],[790,580],[800,568],[810,555],[818,575],[825,590],[835,600],[845,610],[858,618],[870,628],[880,640],[895,655],[910,668],[920,668],[930,655],[945,648],[960,645],[975,640],[990,638],[1000,632],[1010,640],[1020,645],[1035,645],[1045,640],[1060,628],[1075,620],[1085,610],[1095,600],[1100,640],[1110,655],[1125,660],[1140,670],[1160,690],[1170,680],[1180,660],[1195,650],[1205,650],[1212,620],[1220,585],[1230,575],[1240,570],[1250,560],[1258,580],[1265,598],[1275,600],[1285,590],[1298,580],[1305,560],[1315,540],[1330,525],[1342,510],[1355,490],[1365,475],[1372,460],[1380,447]];
document.getElementById('l20e').setAttribute('points',pts(e20,590,0));
document.getElementById('l20b').setAttribute('points',pts(b20,590,0));

/* ---- Chart 23 stacked ---- */
var L=[
 {c:'#000080',k:[[0,5],[3,5.5],[6,6],[9,5],[12,5.5],[18,5.5],[24,5.2],[29,5],[30,9.5],[36,11],[40,13.5],[48,13],[54,12],[60,10.5],[66,9],[72,7.5],[78,7],[84,6],[90,4.5],[94,3.5],[102,3.5],[108,4],[114,3.5],[117,3.8]]},
 {c:'#94325e',k:[[0,14.3],[6,16.7],[8,15],[12,13.5],[18,14.3],[29,14.3],[30,20],[36,21.7],[40,25],[48,22],[54,20.5],[60,19],[66,16],[72,14.8],[78,13.5],[84,11.2],[90,9.7],[94,8],[102,8.5],[108,9.7],[114,8.9],[117,9]]},
 {c:'#babaea',k:[[0,27],[6,27.5],[10,23],[12,23],[18,24.5],[24,25.2],[29,24.8],[30,28.3],[36,27.9],[40,32.2],[48,29.9],[54,27.6],[60,26],[66,23.7],[72,22.9],[78,22],[84,20.6],[90,18.2],[96,15.4],[102,16.4],[108,17],[114,15.4],[117,15.9]]},
 {c:'#7a5a9a',k:[[0,35.4],[6,35.4],[10,30],[12,28.8],[18,30.7],[24,30.7],[29,31.8],[30,35.7],[36,37.2],[40,40],[48,39.3],[54,36.1],[60,35.4],[66,33],[72,34.3],[78,33],[84,30.7],[90,27.1],[96,25.2],[102,25.7],[108,26.3],[114,24.8],[117,25.2]]},
 {c:'#3d9aae',k:[[0,41.6],[6,40.5],[10,36],[12,34.9],[18,36.1],[24,38.2],[29,38.2],[30,41.6],[36,42.8],[40,44.7],[48,43.9],[54,41.6],[60,40.8],[66,39.3],[72,40],[78,40],[84,37.7],[90,32.6],[96,30.7],[102,31.5],[108,33],[114,32.2],[117,31.9]]},
 {c:'#6b0000',k:[[0,42.8],[1,40.5],[6,41.9],[10,37.5],[12,36.4],[18,38.2],[24,40.8],[29,41.1],[30,45],[36,44.7],[40,46.6],[48,46.3],[54,43.9],[60,43.5],[66,41.6],[72,42.4],[78,41.6],[84,38.5],[90,36.1],[96,35.4],[102,36.1],[108,36.9],[114,35.4],[117,35.7]]},
 {c:'#8a8ab2',k:[[0,76.6],[6,75.9],[10,70],[12,70.4],[15,69.3],[18,74.3],[24,76.2],[30,75.1],[36,74.3],[40,76.6],[48,75.9],[54,76.2],[60,76.6],[66,75.1],[72,75.1],[78,74.3],[84,72.7],[90,71.2],[96,68.1],[102,66.2],[108,66.5],[114,66.5],[117,66.2]]},
 {c:'#c48aa0',k:[[0,88.8],[6,87.5],[10,83],[12,82.1],[15,81.3],[18,86],[24,88.3],[30,88],[36,88.3],[40,89.9],[48,88.3],[54,88.6],[60,88],[66,88.3],[72,89.6],[78,88.3],[84,87.5],[90,88.3],[96,87.5],[102,88.3],[108,89.9],[114,90.7],[117,91.1]]},
 {c:'#dcdcff',k:[[0,95.8],[6,95.3],[12,92.7],[18,94.2],[24,94.9],[30,93.8],[36,93],[48,94.5],[60,94.9],[72,95.3],[84,94.5],[96,93],[108,93.8],[117,94.2]]},
 {c:'#b0a0c8',k:[[0,97.8],[12,96.1],[24,96.9],[36,96.1],[48,96.4],[60,96.9],[72,97.7],[84,96.4],[96,95.3],[108,96.1],[117,96.4]]},
 {c:'#92cfe0',k:[[0,100],[117,100]]}
];
function ip(k,t){for(var j=0;j<k.length-1;j++){if(t>=k[j][0]&&t<=k[j+1][0]){var a=k[j],b=k[j+1];return a[1]+(b[1]-a[1])*(t-a[0])/(b[0]-a[0]);}}return k[k.length-1][1];}
var g23=document.getElementById('b23');
function Y(v){return 1005.7-2.137*v;}
for(var t=0;t<=116;t++){
  var x=123.3+3.01*t-1.15, prev=0;
  var w=Math.sin(t*1.7)*0.25;
  for(var li=0;li<L.length;li++){
    var top=ip(L[li].k,t); if(li<L.length-1 && li>0) top+=w*0.5;
    if(top<prev) top=prev;
    mk('rect',{x:x.toFixed(2),y:Y(top).toFixed(2),width:2.3,height:(Y(prev)-Y(top)).toFixed(2),fill:L[li].c},g23);
    prev=top;
  }
}
var t23=document.getElementById('t23');
for(var i=0;i<20;i++){var tx=121.7+18.06*i;mk('line',{x1:tx,y1:1005.7,x2:tx,y2:1009.5,stroke:'#999','stroke-width':1},t23);}
})();
</script>
</body></html>
